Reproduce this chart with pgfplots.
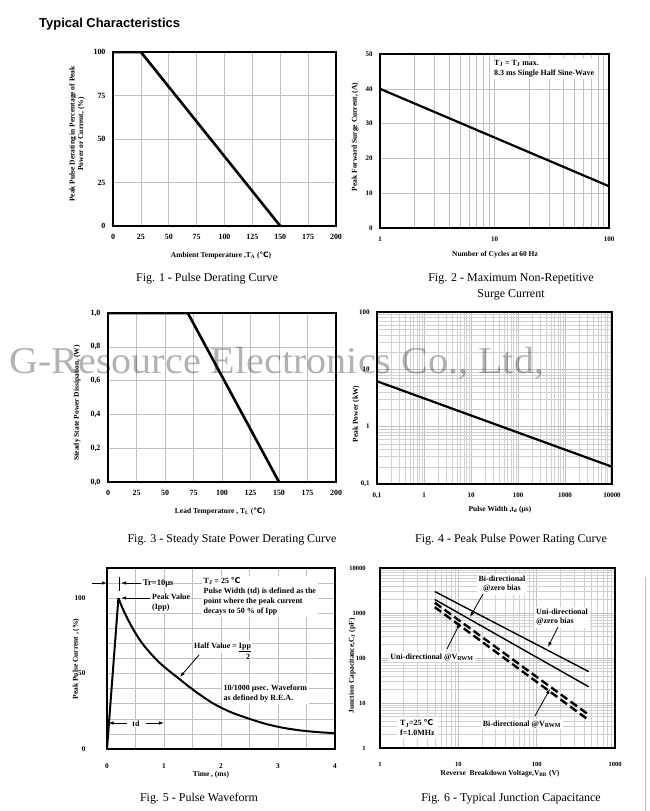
\documentclass[border=0pt]{standalone}
\usepackage{fontspec}
\setmainfont{Liberation Serif}
\newfontfamily\arialfont{Liberation Sans}
\newfontfamily\djv{DejaVu Sans}
\usepackage{pgfplots}
\pgfplotsset{compat=1.18}
\usetikzlibrary{arrows.meta}
\newcommand{\degc}{{\djv ℃}}
\newcommand{\tkf}{\fontsize{7.5}{8}\selectfont\bfseries}
\newcommand{\lbf}{\fontsize{7.5}{8.5}\selectfont\bfseries}
\newcommand{\anf}{\fontsize{8}{10}\selectfont\bfseries}
\newcommand{\cpf}{\fontsize{12}{14}\selectfont}
\pgfplotsset{
  gbase/.style={scale only axis, anchor=south west,
    axis line style={line width=1.4bp},
    major tick length=0pt, minor tick length=0pt,
    tick label style={font=\tkf},
    /pgf/number format/assume math mode=true,
    xticklabel style={yshift=-5bp},
    yticklabel style={xshift=-4bp},
    major grid style={draw=black!25, line width=0.6bp},
    minor grid style={draw=black!18, line width=0.45bp},
  },
}
\tikzset{arr/.style={-{Latex[length=5bp,width=3.5bp]}, line width=0.8bp}}
\begin{document}
\begin{tikzpicture}[x=1bp,y=1bp]
\useasboundingbox (0,0) rectangle (650,-811);
\fill[white] (0,0) rectangle (650,-811);
\node[anchor=base west, inner sep=0, font=\arialfont\bfseries\fontsize{13}{15}\selectfont] at (39,-28) {Typical Characteristics};

% ---------------- Fig 1
\begin{axis}[gbase, at={(113bp,-226bp)}, width=223bp, height=174bp,
  xmin=0, xmax=200, ymin=0, ymax=100,
  tick label style={font=\fontsize{8}{9}\selectfont\bfseries},
  xtick={0,25,50,75,100,125,150,175,200}, ytick={0,25,50,75,100}, grid=major]
\addplot[black, line width=2.6bp] coordinates {(0,100) (25,100) (150,0)};
\end{axis}
\node[rotate=90, font=\lbf, align=center] at (77,-134) {Peak Pulse Derating in Percentage of Peak\\Power or Current, (\%)};
\node[anchor=base, font=\lbf] at (221,-257) {Ambient Temperature ,T\textsubscript{A} (\degc)};
\node[anchor=base, font=\cpf] at (207,-281) {Fig. 1 \textbf{-} Pulse Derating Curve};

% ---------------- Fig 2
\begin{axis}[gbase, at={(380bp,-228bp)}, width=229bp, height=174bp,
  xmode=log, xmin=1, xmax=100, ymin=0, ymax=50,
  tick label style={font=\fontsize{7}{8}\selectfont\bfseries},
  xtick={1,10,100}, xticklabels={1,10,100},
  minor xtick={2,3,4,5,6,7,8,9,20,30,40,50,60,70,80,90},
  ytick={0,10,20,30,40,50},
  xmajorgrids, xminorgrids, ymajorgrids,
  minor grid style={draw=black!25, line width=0.6bp}]
\addplot[black, line width=2.2bp] coordinates {(1,40) (100,12)};
\end{axis}
\node[anchor=north west, fill=white, inner sep=2bp, font=\fontsize{8}{10}\selectfont\bfseries, align=left] at (492,-58) {T\textsubscript{J} = T\textsubscript{J} max.\\8.3 ms Single Half Sine-Wave};
\node[rotate=90, font=\lbf] at (355,-137) {Peak Forward Surge Current, (A)};
\node[anchor=base, font=\lbf] at (495,-256) {Number of Cycles at 60 Hz};
\node[anchor=base, font=\cpf] at (511,-281) {Fig. 2 \textbf{-} Maximum Non-Repetitive};
\node[anchor=base, font=\cpf] at (511,-297) {Surge Current};

% ---------------- Fig 3
\begin{axis}[gbase, at={(108bp,-482bp)}, width=228bp, height=169bp,
  xmin=0, xmax=200, ymin=0, ymax=1,
  tick label style={font=\fontsize{8}{9}\selectfont\bfseries},
  xtick={0,25,50,75,100,125,150,175,200},
  ytick={0,0.2,0.4,0.6,0.8,1.0},
  yticklabels={{0,0},{0,2},{0,4},{0,6},{0,8},{1,0}}, grid=major]
\addplot[black, line width=2.6bp] coordinates {(0,1) (70,1) (150,0)};
\end{axis}
\node[rotate=90, font=\lbf] at (77,-403) {Steady State Power Dissipation, (W)};
\node[anchor=base, font=\lbf] at (220,-513) {Lead Temperature , T\textsubscript{L} (\degc)};
\node[anchor=base, font=\cpf] at (232,-542) {Fig. 3 \textbf{-} Steady State Power Derating Curve};

% ---------------- Fig 4
\begin{axis}[gbase, at={(377bp,-484bp)}, width=235bp, height=172bp,
  xmode=log, ymode=log, xmin=0.1, xmax=10000, ymin=0.1, ymax=100,
  tick label style={font=\fontsize{7}{8}\selectfont\bfseries},
  xtick={0.1,1,10,100,1000,10000}, xticklabels={{0,1},1,10,100,1000,10000},
  ytick={0.1,1,10,100}, yticklabels={{0,1},1,10,100},
  minor xtick={0.2,0.3,0.4,0.5,0.6,0.7,0.8,0.9,2,3,4,5,6,7,8,9,20,30,40,50,60,70,80,90,200,300,400,500,600,700,800,900,2000,3000,4000,5000,6000,7000,8000,9000},
  minor ytick={0.2,0.3,0.4,0.5,0.6,0.7,0.8,0.9,2,3,4,5,6,7,8,9,20,30,40,50,60,70,80,90},
  grid=both]
\addplot[black, line width=2.2bp] coordinates {(0.1,6.2) (10000,0.2)};
\end{axis}
\node[rotate=90, font=\lbf] at (356,-414) {Peak Power (kW)};
\node[anchor=base, font=\lbf] at (500,-511) {Pulse Width ,t\textsubscript{d} (μs)};
\node[anchor=base, font=\cpf] at (511,-542) {Fig. 4 \textbf{-} Peak Pulse Power Rating Curve};

% ---------------- Fig 5
\begin{axis}[gbase, at={(107bp,-749bp)}, width=228bp, height=181bp,
  xmin=0, xmax=4, ymin=0, ymax=120,
  tick label style={font=\fontsize{7.3}{8}\selectfont\bfseries},
  xtick={0,1,2,3,4}, ytick={0,50,100},
  minor xtick={0.5,1.5,2.5,3.5},
  minor ytick={10,20,30,40,60,70,80,90,110},
  yticklabel style={xshift=-14bp}, xticklabel style={yshift=-6bp},
  grid=both, minor grid style={draw=black!25, line width=0.6bp}]
\addplot[black, line width=2bp] coordinates {(0,0) (0.2,100)};
\addplot[black, line width=2bp, smooth] coordinates {(0.2,100) (0.3,91) (0.45,80) (0.6,71) (0.75,64) (0.9,58) (1.05,53) (1.25,47) (1.45,41) (1.65,35.5) (1.85,30.5) (2.0,27.5) (2.2,24) (2.5,20) (2.8,16.5) (3.1,14) (3.4,12.3) (3.7,11.2) (4.0,10.5)};
\end{axis}
\draw[arr] (92,-583) -- (107,-583);
\draw[line width=0.9bp] (119,-577) -- (119,-591);
\draw[arr] (141,-583) -- (121,-583);
\node[anchor=west, fill=white, inner sep=1bp, font=\fontsize{8.5}{10}\selectfont\bfseries] at (142,-583.5) {Tr=10μs};
\draw[arr] (150,-598) -- (121,-598);
\node[anchor=west, fill=white, inner sep=1bp, font=\anf, align=left] at (151,-603) {Peak Value\\(Ipp)};
\node[anchor=north west, fill=white, inner sep=1.5bp, font=\anf, align=left] at (202,-576) {T\textsubscript{J} = 25 \degc\\Pulse Width (td) is defined as the\\point where the peak current\\decays to 50 \% of Ipp};
\node[anchor=base west, fill=white, inner sep=1bp, font=\anf] at (193,-648) {Half Value = \underline{Ipp}};
\node[anchor=base, fill=white, inner sep=1bp, font=\anf] at (248,-659) {2};
\draw[arr] (199,-655) -- (180,-677);
\node[anchor=north west, fill=white, inner sep=1.5bp, font=\anf, align=left] at (222,-683) {10/1000 μsec. Waveform\\as defined by R.E.A.};
\draw[arr] (127,-723) -- (108.5,-723);
\node[fill=white, inner sep=1bp, font=\anf] at (136,-723.5) {td};
\draw[arr] (146,-723) -- (164,-723);
\node[rotate=90, font=\lbf] at (76,-659) {Peak Pulse Current , (\%)};
\node[anchor=base, font=\lbf] at (211,-776) {Time , (ms)};
\node[anchor=base, font=\cpf] at (199,-801) {Fig. 5 \textbf{-} Pulse Waveform};

% ---------------- Fig 6
\begin{axis}[gbase, at={(380bp,-748bp)}, width=235bp, height=180bp,
  xmode=log, ymode=log, xmin=1, xmax=1000, ymin=1, ymax=10000,
  tick label style={font=\fontsize{6.5}{7.5}\selectfont\bfseries},
  xtick={1,10,100,1000}, xticklabels={1,10,100,1000},
  ytick={1,10,100,1000,10000}, yticklabels={1,10,100,1000,10000},
  minor xtick={2,3,4,5,6,7,8,9,20,30,40,50,60,70,80,90,200,300,400,500,600,700,800,900},
  minor ytick={2,3,4,5,6,7,8,9,20,30,40,50,60,70,80,90,200,300,400,500,600,700,800,900,2000,3000,4000,5000,6000,7000,8000,9000},
  xticklabel style={yshift=-6bp}, yticklabel style={xshift=-7bp},
  grid=both]
\addplot[black, line width=1.4bp] coordinates {(5,3000) (460,50)};
\addplot[black, line width=1.4bp] coordinates {(5,2000) (460,23)};
\addplot[black, line width=2.4bp, dash pattern=on 8bp off 4bp] coordinates {(5,1700) (460,5.5)};
\addplot[black, line width=2.4bp, dash pattern=on 8bp off 4bp] coordinates {(5,1350) (460,4.2)};
\end{axis}
\node[fill=white, inner sep=2bp, font=\anf, align=center] at (502,-584) {Bi-directional\\@zero bias};
\draw[arr] (483,-594) -- (470,-617);
\node[anchor=west, fill=white, inner sep=2bp, font=\anf, align=left] at (534,-617) {Uni-directional\\@zero bias};
\draw[arr] (558,-627) -- (548,-647);
\node[fill=white, inner sep=1.5bp, font=\anf] at (432,-657) {Uni-directional @V\textsubscript{RWM}};
\draw[arr] (447,-649) -- (460,-623);
\node[fill=white, inner sep=1.5bp, font=\anf] at (522,-724) {Bi-directional @V\textsubscript{RWM}};
\draw[arr] (535,-716) -- (550,-689);
\node[anchor=west, fill=white, inner sep=3bp, font=\anf, align=left] at (397,-728) {T\textsubscript{J}=25 \degc\\f=1.0MHz};
\node[rotate=90, font=\lbf] at (352,-666) {Junction Capacitance,C\textsubscript{J} (pF)};
\node[anchor=base, font=\lbf] at (500,-775) {Reverse\ \ Breakdown Voltage,V\textsubscript{BR} (V)};
\node[anchor=base, font=\cpf] at (511,-801) {Fig. 6 \textbf{-} Typical Junction Capacitance};
\draw[black!25, line width=1bp] (645,-577) -- (645,-811);

% ---------------- watermark
\node[anchor=base west, inner sep=0, font=\fontsize{38}{40}\selectfont, text=black, text opacity=0.3, xscale=1.06] at (9,-373) {G-Resource Electronics Co., Ltd,};
\end{tikzpicture}
\end{document}
